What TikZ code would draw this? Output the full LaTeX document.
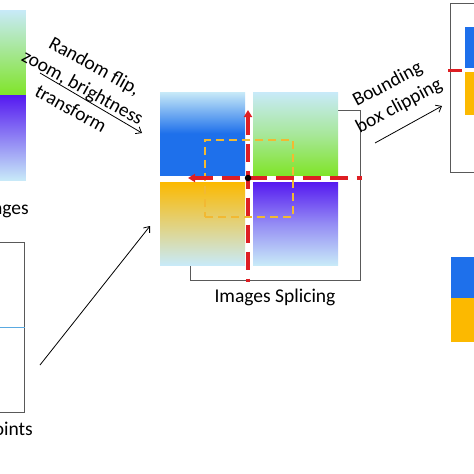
\documentclass[tikz,border=0pt]{standalone}
\usepackage{fontspec}
\setmainfont{Carlito}
\usetikzlibrary{arrows.meta, positioning}

\definecolor{skyfade}{RGB}{200,234,248}
\definecolor{tileblue}{RGB}{30,112,235}
\definecolor{leafgreen}{RGB}{128,228,40}
\definecolor{deepviolet}{RGB}{85,25,240}
\definecolor{sunorange}{RGB}{252,185,0}
\definecolor{cutred}{RGB}{222,30,35}
\definecolor{cropyellow}{RGB}{242,185,50}
\definecolor{lineblue}{RGB}{90,170,225}

\begin{document}
\begin{tikzpicture}[
        x=1pt, y=-1pt,
        % Estilos para las imagenes
        tile/.style={
                rectangle,
                inner sep=0pt,
                minimum width=85pt,
                minimum height=83pt
            },
        patch/.style={
                rectangle,
                inner sep=0pt,
                anchor=north west,
                minimum width=60pt
            },
        frame/.style={
                rectangle,
                inner sep=0pt,
                draw=black!65,
                line width=0.9pt
            },
        % Flechas
        arrow/.style={
                -{Straight Barb[length=5pt,width=8pt]},
                line width=0.8pt,
                color=black
            },
        % Lineas de corte
        cut/.style={
                draw=cutred,
                line width=3.5pt,
                dash pattern=on 18pt off 9pt
            },
        crop/.style={
                rectangle,
                draw=cropyellow,
                line width=2pt,
                dash pattern=on 8pt off 5pt
            },
        % Textos
        txt/.style={
                inner sep=0pt,
                align=center,
                font=\fontsize{19.5}{24.5}\selectfont
            }
    ]

    % Area visible
    \path[use as bounding box, clip] (0,0) rectangle (474,474);
    \fill[white] (0,0) rectangle (474,474);

    % Imagen de entrada (izquierda arriba)
    \node[tile, anchor=north east, minimum width=80pt, minimum height=85pt,
        top color=skyfade, bottom color=leafgreen, middle color=skyfade!50!leafgreen] (srctop) at (26,10) {};
    \node[tile, anchor=north east, minimum width=80pt, minimum height=85pt,
        top color=deepviolet, bottom color=skyfade] (srcbot) at (26,95) {};
    \node[txt, anchor=east] (srcname) at (29,210) {Images};

    % Cajas de puntos (izquierda abajo)
    \node[frame, fill=white, anchor=north east, minimum width=80pt, minimum height=170pt] (kpbox) at (25,242) {};
    \draw[lineblue, line width=0.8pt] (kpbox.west) -- (kpbox.east);
    \node[txt, anchor=east] (kpname) at (33,430) {points};

    % Transformaciones
    \coordinate (augfrom) at (40,73);
    \coordinate (augto) at (142,133);
    \node[txt, rotate=-29] (auglbl) at (83,87) {Random flip,\\zoom, brightness\\transform};
    \draw[arrow] (augfrom) -- (augto);

    \coordinate (kpfrom) at (40,365);
    \coordinate (kpto) at (150,226);
    \draw[arrow] (kpfrom) -- (kpto);

    % Lienzo del empalme
    \node[frame, minimum width=170pt, minimum height=170pt] (canvas) at (275,195) {};
    \fill[white] (160,92) rectangle (338,265);

    \node[tile, top color=skyfade, bottom color=tileblue, middle color=tileblue] (tl) at (202.5,133.5) {};
    \node[tile, top color=skyfade, bottom color=leafgreen, middle color=skyfade!55!leafgreen] (tr) at (295.5,134) {};
    \node[tile, top color=sunorange, bottom color=skyfade, middle color=sunorange!50!skyfade] (bl) at (202.5,223.5) {};
    \node[tile, top color=deepviolet, bottom color=skyfade, middle color=deepviolet!45!skyfade] (br) at (295.5,223.5) {};

    % Recorte y lineas de division
    \node[crop, minimum width=88pt, minimum height=77pt] (cropbox) at (249,178.5) {};

    \coordinate (cuttop) at (248,110);
    \coordinate (cutbot) at (248,282);
    \coordinate (cutleft) at (188,178);
    \coordinate (cutright) at (362,178);
    \draw[cut, {Triangle[length=7pt,width=8pt]}-] (cuttop) -- (cutbot);
    \draw[cut, {Triangle[length=7pt,width=8pt]}-] (cutleft) -- (cutright);
    \node[circle, fill=black, inner sep=0pt, minimum size=6.5pt] (center) at (248,178) {};

    \node[txt, below=8pt of canvas] (splice) {Images Splicing};

    % Recorte por caja
    \coordinate (clipfrom) at (375,143);
    \coordinate (clipto) at (442,106);
    \node[txt, rotate=28] (cliplbl) at (393.5,95.5) {Bounding\\box clipping};
    \draw[arrow] (clipfrom) -- (clipto);

    % Resultado (derecha)
    \node[frame, fill=white, anchor=north west, minimum width=100pt, minimum height=169pt] (clipbox) at (450,3) {};
    \node[patch, fill=tileblue, minimum height=41pt] (outblue) at (465,27) {};
    \node[patch, fill=sunorange, minimum height=43pt] (outorange) at (465,72) {};
    \coordinate (markfrom) at (448,70);
    \coordinate (markto) at (462,70);
    \draw[cutred, line width=3pt] (markfrom) -- (markto);

    \node[patch, fill=tileblue, minimum height=41pt] (resblue) at (451,257) {};
    \node[patch, fill=sunorange, minimum height=44pt] (resorange) at (451,298) {};

\end{tikzpicture}
\end{document}
